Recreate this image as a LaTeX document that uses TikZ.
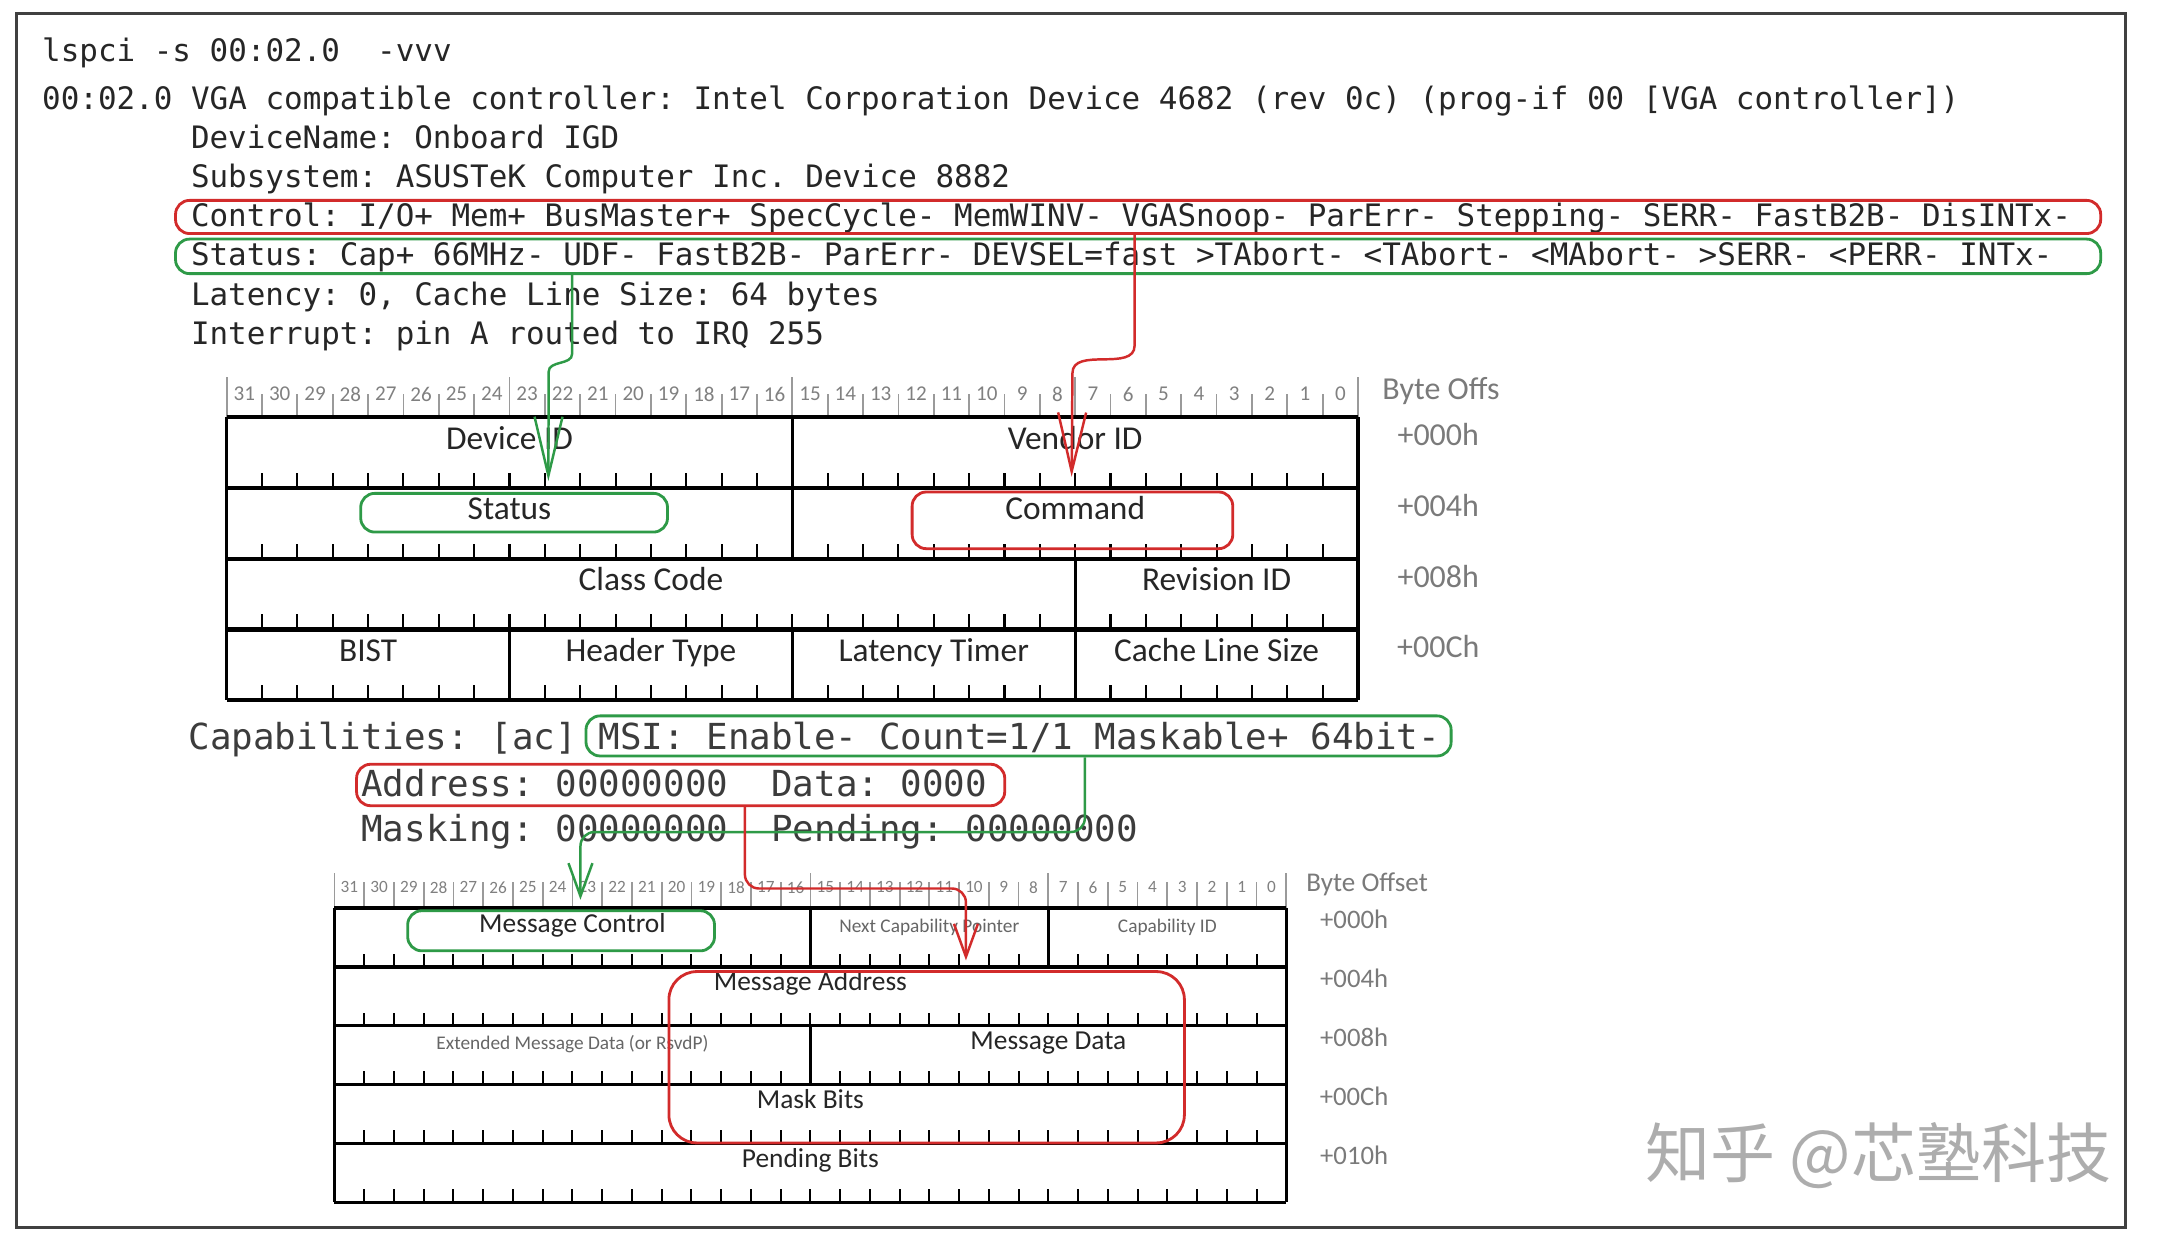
\documentclass[tikz,border=0pt]{standalone}
\usepackage{fontspec}
\setmainfont{Carlito}
\setmonofont{DejaVu Sans Mono}
\newfontfamily\cjkfont{Noto Sans CJK SC}
\usepackage{tikz}
\usetikzlibrary{arrows.meta, positioning, calc, fit}
\usepackage{xcolor}
\definecolor{hlred}{HTML}{D22B2B}
\definecolor{hlgreen}{HTML}{2E9A47}
\definecolor{offgray}{HTML}{7A7A7A}
\definecolor{rulegray}{HTML}{9A9A9A}
\definecolor{inkgray}{HTML}{262626}

\begin{document}
\begin{tikzpicture}[
    x=0.01382cm, y=-0.01382cm,
    ttline/.style={anchor=base west, inner sep=0pt, text=inkgray,
                   font=\ttfamily\fontsize{8.8}{10}\selectfont},
    ttcap/.style={anchor=base west, inner sep=0pt, text=inkgray!90,
                  font=\ttfamily\fontsize{10.2}{12}\selectfont},
    hlbox/.style={draw, rounded corners=4pt, line width=0.8pt, inner sep=0pt},
    bitno/.style={inner sep=0pt, text=black!50},
    hdr/.style={rulegray, line width=0.5pt},
    tick/.style={line width=0.6pt},
    fieldlbl/.style={anchor=base, inner sep=0pt, text=inkgray},
    smalllbl/.style={anchor=base, inner sep=0pt, text=black!60,
                     font=\fontsize{5.5}{6}\selectfont},
    offs/.style={anchor=base, inner sep=0pt, text=offgray},
    arr/.style={line width=0.7pt},
    bigtip/.style={-{Straight Barb[length=5.9mm, width=2.8mm]}},
    smalltip/.style={-{Straight Barb[length=3.3mm, width=2.4mm]}}
  ]
  \fill[white] (0,0) rectangle (1568,899);
  \useasboundingbox (0,0) rectangle (1568,899);
  \draw[black!75, line width=0.9pt] (12,10) rectangle (1538,888);

  % lspci output
  \node[ttline] (cmdline) at (30,44.5) {lspci -s 00:02.0\ \ -vvv};
  \node[ttline] (devline) at (30,79.5) {00:02.0 VGA compatible controller: Intel Corporation Device 4682 (rev 0c) (prog-if 00 [VGA controller])};
  \node[ttline] (nameline) at (137.7,107.5) {DeviceName: Onboard IGD};
  \node[ttline] (subline) at (137.7,135.5) {Subsystem: ASUSTeK Computer Inc. Device 8882};
  \node[ttline] (ctrlline) at (137.7,164) {Control: I/O+ Mem+ BusMaster+ SpecCycle- MemWINV- VGASnoop- ParErr- Stepping- SERR- FastB2B- DisINTx-};
  \node[ttline] (statline) at (137.7,192) {Status: Cap+ 66MHz- UDF- FastB2B- ParErr- DEVSEL=fast >TAbort- <TAbort- <MAbort- >SERR- <PERR- INTx-};
  \node[ttline] (latline) at (137.7,221) {Latency: 0, Cache Line Size: 64 bytes};
  \node[ttline] (irqline) at (137.7,249) {Interrupt: pin A routed to IRQ 255};

  % configuration header, type 0
  \begin{scope}[shift={(164,302)}, x=0.35366cm, y=-0.70758cm]
    \foreach \i [evaluate=\i as \b using {int(31-\i)}] in {0,...,31}
      \node[bitno, font=\fontsize{6}{7}\selectfont] at (\i+0.5,-0.33) {\b};
    \foreach \i in {1,...,31} \draw[hdr] (\i,-0.33) -- (\i,0);
    \foreach \i in {0,8,16,24,32} \draw[hdr] (\i,-0.57) -- (\i,0);
    \foreach \r in {1,...,4}
      \foreach \i in {1,...,31} \draw[tick] (\i,\r) -- (\i,\r-0.215);
    \foreach \r in {0,...,4} \draw[line width=1.2pt] (0,\r) -- (32,\r);
    \draw[line width=1pt] (0,0) -- (0,4) (32,0) -- (32,4);
    \draw[line width=0.9pt] (16,0) -- (16,2) (24,2) -- (24,4)
      (8,3) -- (8,4) (16,3) -- (16,4);

    \node[fieldlbl, font=\fontsize{9.5}{11}\selectfont] (devid) at (8,0.45) {Device ID};
    \node[fieldlbl, font=\fontsize{9.5}{11}\selectfont] (vendid) at (24,0.45) {Vendor ID};
    \node[fieldlbl, font=\fontsize{9.5}{11}\selectfont] (status) at (8,1.45) {Status};
    \node[fieldlbl, font=\fontsize{9.5}{11}\selectfont] (command) at (24,1.45) {Command};
    \node[fieldlbl, font=\fontsize{9.5}{11}\selectfont] (classcode) at (12,2.45) {Class Code};
    \node[fieldlbl, font=\fontsize{9.5}{11}\selectfont] (revid) at (28,2.45) {Revision ID};
    \node[fieldlbl, font=\fontsize{9.5}{11}\selectfont] (bist) at (4,3.45) {BIST};
    \node[fieldlbl, font=\fontsize{9.5}{11}\selectfont] (hdrtype) at (12,3.45) {Header Type};
    \node[fieldlbl, font=\fontsize{9.5}{11}\selectfont] (lattimer) at (20,3.45) {Latency Timer};
    \node[fieldlbl, font=\fontsize{9.5}{11}\selectfont] (cacheline) at (28,3.45) {Cache Line Size};

    \node[offs, anchor=base west, font=\fontsize{9.1}{10}\selectfont] (byteoffs) at (32.67,-0.25) {Byte Offs};
    \foreach \r/\o in {0/000h, 1/004h, 2/008h, 3/00Ch}
      \node[offs, font=\fontsize{9.1}{10}\selectfont] at (34.27,\r+0.40) {+\o};

    \coordinate (devtip) at (9.1,0.9);
    \coordinate (cmdtip) at (23.9,0.84);
  \end{scope}

  % MSI capability
  \node[ttcap] (capline) at (136,542) {Capabilities: [ac] MSI: Enable- Count=1/1 Maskable+ 64bit-};
  \node[ttcap] (addrline) at (261,576) {Address: 00000000\ \ Data: 0000};
  \node[ttcap] (maskline) at (261,609) {Masking: 00000000\ \ Pending: 00000000};

  \begin{scope}[shift={(242,657)}, x=0.29755cm, y=-0.58873cm]
    \foreach \i [evaluate=\i as \b using {int(31-\i)}] in {0,...,31}
      \node[bitno, font=\fontsize{4.9}{5}\selectfont] at (\i+0.5,-0.35) {\b};
    \foreach \i in {1,...,31} \draw[hdr] (\i,-0.44) -- (\i,0);
    \foreach \i in {0,8,16,24,32} \draw[hdr] (\i,-0.59) -- (\i,0);
    \foreach \r in {1,...,5}
      \foreach \i in {1,...,31} \draw[tick] (\i,\r) -- (\i,\r-0.223);
    \foreach \r in {0,...,5} \draw[line width=1pt] (0,\r) -- (32,\r);
    \draw[line width=0.9pt] (0,0) -- (0,5) (32,0) -- (32,5);
    \draw[line width=0.8pt] (16,0) -- (16,1) (24,0) -- (24,1) (16,2) -- (16,3);

    \node[fieldlbl, font=\fontsize{7.8}{9}\selectfont] (msgctl) at (8,0.41) {Message Control};
    \node[smalllbl] (nextptr) at (20,0.41) {Next Capability Pointer};
    \node[smalllbl] (capid) at (28,0.41) {Capability ID};
    \node[fieldlbl, font=\fontsize{7.8}{9}\selectfont] (msgaddr) at (16,1.41) {Message Address};
    \node[smalllbl] (extdata) at (8,2.41) {Extended Message Data (or RsvdP)};
    \node[fieldlbl, font=\fontsize{7.8}{9}\selectfont] (msgdata) at (24,2.41) {Message Data};
    \node[fieldlbl, font=\fontsize{7.8}{9}\selectfont] (maskbits) at (16,3.41) {Mask Bits};
    \node[fieldlbl, font=\fontsize{7.8}{9}\selectfont] (pendbits) at (16,4.41) {Pending Bits};

    \node[offs, anchor=base west, font=\fontsize{7.7}{9}\selectfont] (byteoffset) at (32.65,-0.28) {Byte Offset};
    \foreach \r/\o in {0/000h, 1/004h, 2/008h, 3/00Ch, 4/010h}
      \node[offs, font=\fontsize{7.6}{9}\selectfont] at (34.28,\r+0.35) {+\o};

    \coordinate (mctltip) at (8.27,-0.14);
    \coordinate (msgtip) at (21.23,0.89);
  \end{scope}

  % highlight boxes
  \node[hlbox, hlred, fit={(127,145) (1520,169)}] (ctrlbox) {};
  \node[hlbox, hlgreen, fit={(127,173) (1520,198)}] (statbox) {};
  \node[hlbox, hlgreen, fit={(261,357) (483,385)}] (statusfld) {};
  \node[hlbox, hlred, fit={(660,356) (892,397)}] (cmdfld) {};
  \node[hlbox, hlgreen, fit={(424,518) (1050,547)}] (msibox) {};
  \node[hlbox, hlred, fit={(258,553) (727,583)}] (addrbox) {};
  \node[hlbox, hlgreen, fit={(295,659) (517,688)}] (mctlfld) {};
  \node[hlbox, hlred, rounded corners=8pt, fit={(484,703) (857,827)}] (msgfld) {};

  % connectors
  \draw[arr, hlgreen, bigtip] ($(statbox.south west)+(288,0)$) -- ++(0,57)
    to[out=-90, in=90] ++(-17,13) -- (devtip);
  \draw[arr, hlred, bigtip] ($(ctrlbox.south west)+(695,0)$) -- ++(0,80)
    to[out=-90, in=90] ++(-45,20) -- (cmdtip);
  \draw[arr, hlgreen, smalltip, rounded corners=4pt]
    ($(msibox.south west)+(362,0)$) |- ($(mctltip)+(0,-49)$) -- (mctltip);
  \draw[arr, hlred, smalltip, rounded corners=4pt]
    ($(addrbox.south west)+(282,0)$) |- ($(msgtip)+(0,-52)$) -- (msgtip);

  \node[anchor=west, inner sep=0pt, text=black!32,
        font=\cjkfont\fontsize{18.5}{20}\selectfont] (wmark) at (1190,836) {知乎 @芯塾科技};
\end{tikzpicture}
\end{document}
